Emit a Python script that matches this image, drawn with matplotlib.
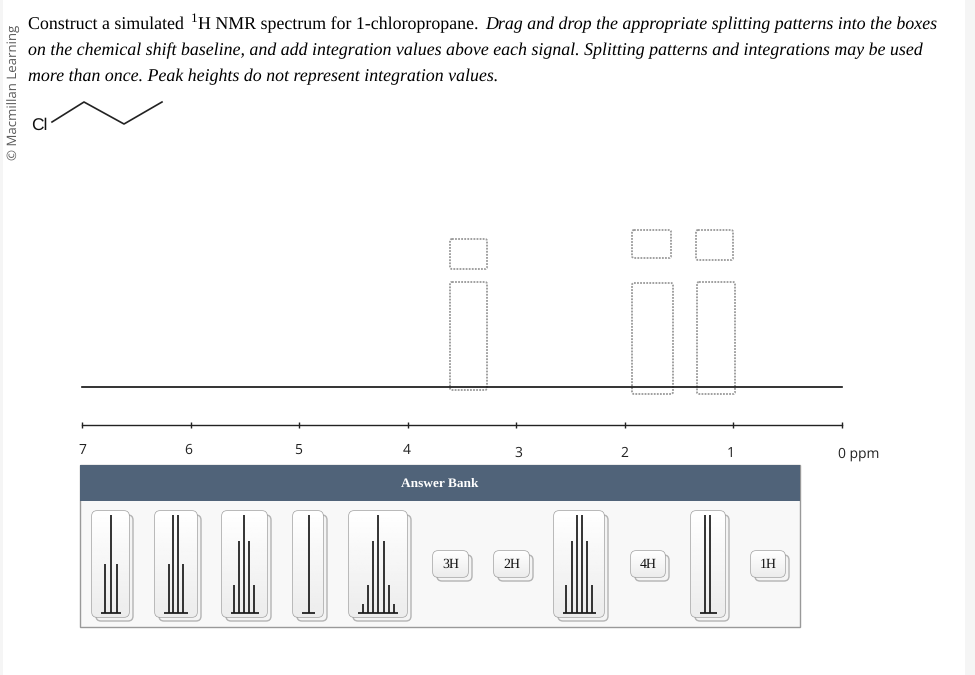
import numpy as np
import matplotlib
matplotlib.use("Agg")
import matplotlib.pyplot as plt
from matplotlib.patches import FancyBboxPatch, Rectangle
from matplotlib.transforms import ScaledTranslation

plt.rcParams["text.hinting"] = "no_hinting"
plt.rcParams["text.hinting_factor"] = 8

W, H = 975, 675

# ---------- content ----------
ppm_ticks = [7, 6, 5, 4, 3, 2, 1, 0]
ppm_labels = ["7", "6", "5", "4", "3", "2", "1", "0 ppm"]
label_dx = [0, -2, -1, -1, 2, -1, -3, 17]
label_dy = [0, 0, 0, 0, -3, -3, -3, -3]

line1_roman = "Construct a simulated "
line1_sup = "1"
line1_roman2 = "H NMR spectrum for 1-chloropropane. "
line1_italic = "Drag and drop the appropriate splitting patterns into the boxes"
line2_italic = "on the chemical shift baseline, and add integration values above each signal. Splitting patterns and integrations may be used"
line3_italic = "more than once. Peak heights do not represent integration values."

chain_x = [52, 84, 124, 162]
chain_y = [122, 102, 124, 102]

box_left = [450, 632, 696, 450, 632, 697]
box_right = [487, 671, 733, 487, 673, 735]
box_top = [239, 230, 230, 282, 283, 282]
box_bottom = [269, 258, 260, 390, 394, 394]

card_left = [92, 155, 222, 293, 349, 554, 691]
card_right = [129, 197, 267, 323, 407, 604, 725]
stick_x = [[104.7, 111, 117],
           [168.7, 173.3, 178, 182.7],
           [234.3, 239, 244, 249, 254.3],
           [308.7],
           [362.7, 367.7, 372.7, 378, 383.7, 389, 394],
           [566, 571.7, 576.7, 581.7, 586.7, 592.3],
           [705, 710.3]]
stick_h = [[49, 98, 49],
           [49, 98, 98, 49],
           [28, 72, 98, 72, 28],
           [98],
           [9, 28, 72, 98, 72, 28, 9],
           [28, 72, 98, 98, 72, 28],
           [98, 98]]
foot_left = [101, 164, 231, 302, 358, 563, 700]
foot_right = [121, 188, 259, 315, 398, 596, 717]

button_text = ["3H", "2H", "4H", "1H"]
button_left = [433, 494, 631, 751]
button_right = [468, 529, 665, 785]

# ---------- canvas ----------
fig = plt.figure(figsize=(W / 100, H / 100), dpi=100, facecolor="white")
ax = fig.add_axes([0, 0, 1, 1])
ax.axis("off")

grad = np.linspace(1.0, 0.925, 64).reshape(-1, 1)


def rounded(x0, y0, x1, y1, **kw):
    r = FancyBboxPatch((x0 + 3, y0 + 3), x1 - x0 - 6, y1 - y0 - 6,
                       boxstyle="round,pad=3,rounding_size=5", **kw)
    ax.add_patch(r)
    return r


def card(x0, y0, x1, y1):
    rounded(x0 + 4, y0 + 4, x1 + 4, y1 + 4, fc="#f4f4f4", ec="#b4b4b4", lw=1.0, zorder=3)
    p = rounded(x0, y0, x1, y1, fc="white", ec="#a0a0a0", lw=1.0, zorder=4)
    im = ax.imshow(grad, extent=(x0, x1, y1, y0), cmap="gray", vmin=0, vmax=1,
                   aspect="auto", zorder=4.5)
    im.set_clip_path(p)


# page side strips
ax.add_patch(Rectangle((0, 0), 3, H, fc="#f5f5f5", ec="none"))
ax.add_patch(Rectangle((965, 0), W - 965, H, fc="#f5f5f5", ec="none"))

# question text
serif = dict(family="Liberation Serif", color="black", va="baseline")
ax.text(28, 29, line1_roman, fontsize=12.9, **serif)
ax.text(190.5, 22, line1_sup, fontsize=9.6, **serif)
ax.text(198, 29, line1_roman2, fontsize=12.9, **serif)
ax.text(485, 29, line1_italic, style="italic", fontsize=12.85, **serif)
ax.text(28, 55, line2_italic, style="italic", fontsize=12.85, **serif)
ax.text(28, 81, line3_italic, style="italic", fontsize=12.85, **serif)
ax.text(14.5, 92, "© Macmillan Learning", rotation=90, ha="center", va="center",
        family="Open Sans", fontsize=9.5, color="#5a5a5a")

# molecule
ax.plot(chain_x, chain_y, color="#222222", lw=1.2)
ax.text(31.5, 125, "Cl", family="Liberation Sans", fontsize=12.5, va="center", color="#111111")

# drop boxes
for x0, x1, y0, y1 in zip(box_left, box_right, box_top, box_bottom):
    ax.add_patch(FancyBboxPatch((x0 + 2, y0 + 2), x1 - x0 - 4, y1 - y0 - 4,
                                boxstyle="round,pad=2,rounding_size=2", fc="none",
                                ec="#999999", lw=1.3, ls=(0, (1, 0.7)), zorder=5))

# answer bank
ax.add_patch(Rectangle((80, 465), 720, 162, fc="#f8f8f8", ec="#999999", lw=1.0, zorder=1))
ax.add_patch(Rectangle((80, 465), 720, 36, fc="#506379", ec="none", zorder=2))
ax.text(440, 484, "Answer Bank", family="Liberation Serif", fontsize=9.6, weight="bold",
        color="white", ha="center", va="center", zorder=3)

for x0, x1, xs, hs, f0, f1 in zip(card_left, card_right, stick_x, stick_h, foot_left, foot_right):
    card(x0, 511, x1, 617)
    ax.vlines(xs, [612.5 - h for h in hs], 612.5, color="#1a1a1a", lw=1.25, zorder=6)
    ax.hlines(612.5, f0, f1, color="#1a1a1a", lw=1.25, zorder=6)

for t, x0, x1 in zip(button_text, button_left, button_right):
    card(x0, 551, x1, 577)
    ax.text((x0 + x1) / 2, 564.5, t, family="Liberation Serif", fontsize=10, color="#111111",
            ha="center", va="center", zorder=6)

ax.set_xlim(0, W)
ax.set_ylim(H, 0)

# chemical shift axis and baseline, on a real ppm scale
axis_y, base_y = 424.5, 387
nmr = fig.add_axes([82 / W, 1 - axis_y / H, (842 - 82) / W, (axis_y - base_y) / H])
nmr.patch.set_alpha(0)
nmr.set_xlim(7, 0)
nmr.set_ylim(0, 1)
for s in ["top", "left", "right"]:
    nmr.spines[s].set_visible(False)
nmr.spines["bottom"].set_linewidth(1.0)
nmr.spines["bottom"].set_color("#222222")
nmr.plot([7, 0], [1, 1], color="#111111", lw=1.2, clip_on=False, zorder=4)
nmr.set_yticks([])
nmr.set_xticks(ppm_ticks)
nmr.set_xticklabels(ppm_labels, family="Open Sans", fontsize=10, color="#222222")
nmr.tick_params(axis="x", direction="inout", length=5, width=1, pad=11.2, color="#222222")
for lab, dx, dy in zip(nmr.get_xticklabels(), label_dx, label_dy):
    lab.set_transform(lab.get_transform() + ScaledTranslation(dx / 100, dy / 100, fig.dpi_scale_trans))

fig.savefig("out.png", dpi=100)
